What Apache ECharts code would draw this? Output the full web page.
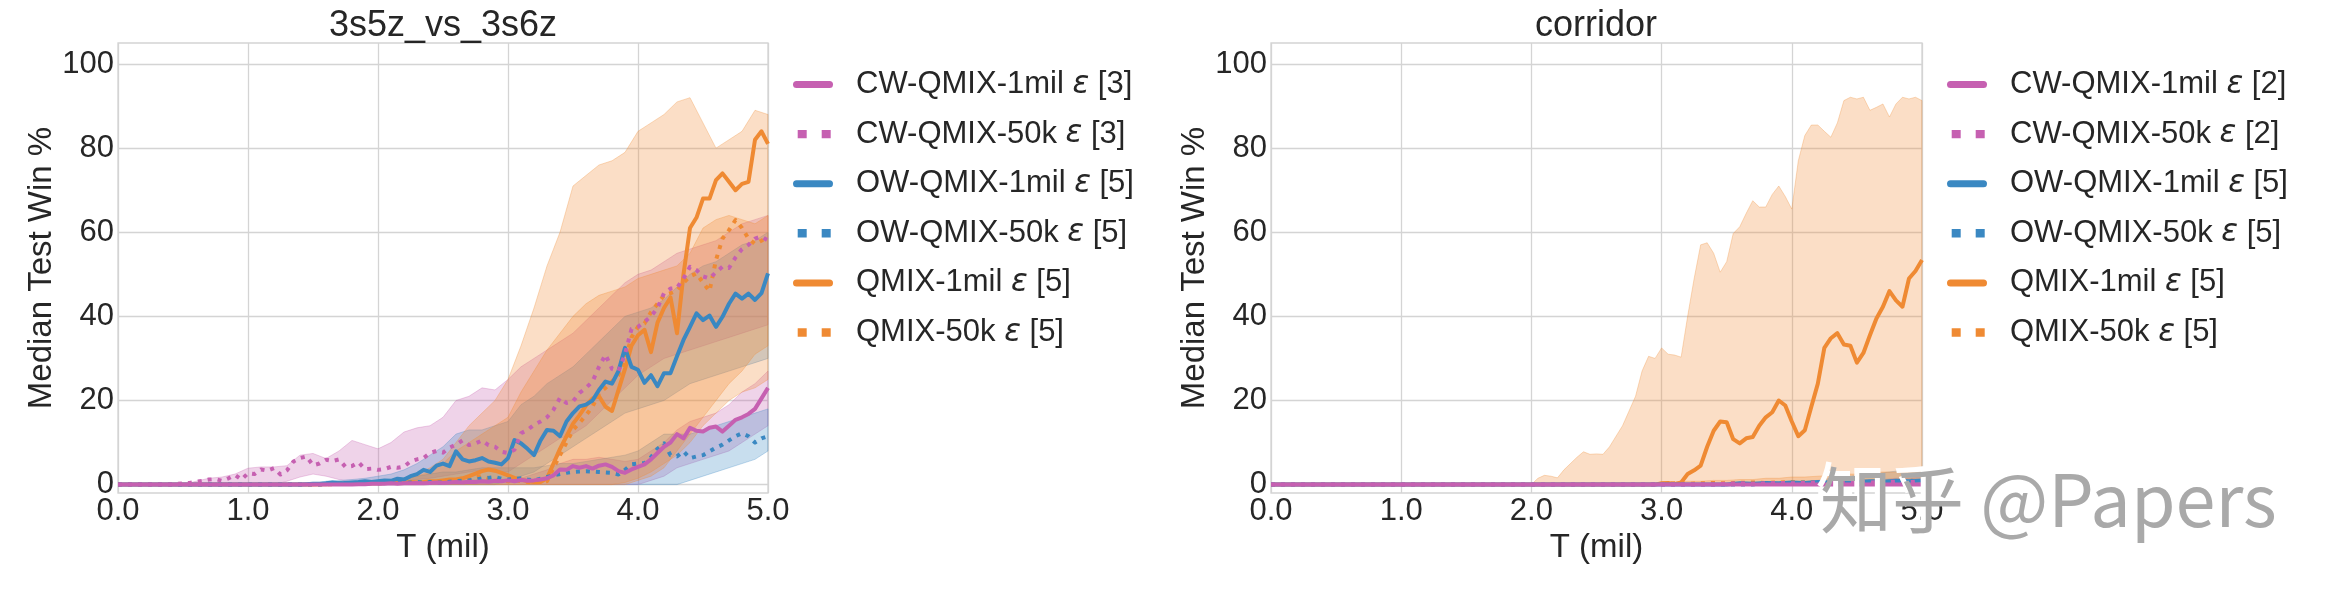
<!DOCTYPE html>
<html><head><meta charset="utf-8">
<script src="https://cdn.jsdelivr.net/npm/echarts@6/dist/echarts.min.js"></script>
<style>html,body{margin:0;padding:0;background:#fff}#c{width:2326px;height:604px}</style>
</head><body><div id="c"></div>
<script>
// ---------- sampling grids (T in millions of steps) ----------
const T05 = Array.from({length: 101}, (_, i) => Math.round(i * 5) / 100);
const T10 = Array.from({length: 51}, (_, i) => Math.round(i * 10) / 100);
const xTicks = [0, 1, 2, 3, 4, 5];
const yTicks = [0, 20, 40, 60, 80, 100];

const titles = ['3s5z_vs_3s6z', 'corridor'];
const namesL = ['CW-QMIX-1mil ε [3]', 'CW-QMIX-50k ε [3]', 'OW-QMIX-1mil ε [5]', 'OW-QMIX-50k ε [5]', 'QMIX-1mil ε [5]', 'QMIX-50k ε [5]'];
const namesR = ['CW-QMIX-1mil ε [2]', 'CW-QMIX-50k ε [2]', 'OW-QMIX-1mil ε [5]', 'OW-QMIX-50k ε [5]', 'QMIX-1mil ε [5]', 'QMIX-50k ε [5]'];

// ---------- 3s5z_vs_3s6z : medians on T05 ----------
const cw1L = [0,0,0,0,0,0,0,0,0,0, 0,0,0,0,0,0,0,0,0,0, 0,0,0,0,0,0,0,0,0,0, 0,0,0,0,0,0,0,0.1,0.1,0.2,
  0.2,0.2,0.3,0.2,0.3,0.3,0.4,0.3,0.4,0.5, 0.4,0.5,0.6,0.5,0.7,0.6,0.8,0.7,0.9,0.8,
  1.0,0.8,1.1,0.9,1.0,1.2,1.5,2.2,3.6,3.5, 4.4,4.0,4.4,3.8,4.5,4.8,4.2,3.2,2.8,3.6,
  4.2,4.8,6.0,7.5,9.0,10.0,12.0,11.0,13.5,12.8, 12.6,13.5,13.8,12.6,14.0,15.4,16.0,16.8,18.0,20.5, 23.0];
const cw50L = [0,0,0,0,0,0,0,0,0,0.2, 0.3,0.4,0.7,0.9,1.2,1.3,0.9,1.5,2.3,1.2,
  2.7,2.5,3.6,3.3,3.9,2.4,3.4,5.5,6.3,6.7, 4.6,5.0,5.9,5.6,6.0,4.2,4.4,5.3,3.7,3.8,
  3.5,3.7,4.2,4.0,4.3,5.5,6.0,6.3,7.5,8.0, 7.6,8.8,9.5,10.5,9.4,9.8,10.5,9.4,9.0,7.8,
  7.5,8.3,12.2,13.0,14.2,15.0,16.0,17.8,20.6,19.4, 19.8,21.8,23.0,24.5,28.0,30.9,27.5,27.0,31.0,37.0,
  37.5,38.7,40.0,42.0,45.5,46.6,46.8,49.0,51.8,51.0, 49.5,49.0,50.5,51.8,51.5,54.0,56.0,57.0,58.5,59.0, 58.0];
const ow1L = [0,0,0,0,0,0,0,0,0,0, 0,0,0,0,0,0,0,0,0,0, 0,0,0,0,0,0,0,0,0,0.1,
  0.2,0.2,0.3,0.5,0.3,0.4,0.5,0.6,0.8,0.6, 0.8,1.0,0.9,1.4,1.2,2.0,2.5,3.5,3.0,4.5,
  5.0,4.4,7.9,6.0,5.5,5.8,6.3,5.5,5.2,4.8, 6.3,10.6,9.8,8.5,7.0,10.5,13.0,12.8,11.5,15.0,
  17.0,18.6,19.0,20.0,22.5,24.5,24.0,27.0,32.5,28.0, 27.3,24.2,26.0,23.4,26.5,26.5,30.5,34.4,37.5,40.7,
  39.1,40.2,37.5,39.9,43.0,45.4,44.2,45.4,43.9,45.5, 50.2];
const ow50L = [0,0,0,0,0,0,0,0,0,0, 0,0,0,0,0,0,0,0,0,0, 0,0,0,0,0,0,0,0,0,0,
  0,0,0.2,0.2,0.3,0.2,0.3,0.4,0.3,0.4, 0.3,0.4,0.4,0.5,0.4,0.5,0.6,0.5,0.6,0.5,
  0.5,0.7,0.8,0.9,1.0,1.2,1.5,1.6,1.8,1.4, 1.2,1.3,1.5,1.2,1.0,1.4,1.8,2.2,2.5,2.8,
  3.0,3.1,3.2,3.1,3.0,2.9,2.8,2.4,3.5,4.8, 5.0,5.1,6.5,8.5,9.8,7.0,6.7,7.9,6.3,6.7,
  7.0,7.9,8.8,9.5,10.5,11.5,12.2,11.5,10.0,11.0, 11.5];
const q1L = [0,0,0,0,0,0,0,0,0,0, 0,0,0,0,0,0,0,0,0,0, 0,0,0,0,0,0,0,0,0,0,
  0,0.1,0.1,0.2,0.2,0.2,0.2,0.3,0.3,0.3, 0.3,0.4,0.4,0.5,0.4,0.6,0.5,0.6,0.8,0.8,
  1.0,1.2,1.2,1.5,2.0,2.6,3.2,3.6,3.3,2.8, 2.2,1.6,1.2,0.8,0.6,0.6,1.5,5.0,8.5,11.5,
  14.5,16.5,18.8,20.5,21.0,18.5,17.5,22.5,27.5,33.0, 35.5,36.8,31.5,38.5,42.0,44.5,36.0,50.0,61.0,63.5,
  68.0,68.0,72.4,74.0,72.0,70.0,71.5,72.0,82.0,84.0, 81.0];
const q50L = [0,0,0,0,0,0,0,0,0,0, 0,0,0,0,0,0,0,0,0,0, 0,0,0,0,0,0,0,0,0,0,
  0,0,0.1,0.1,0.2,0.2,0.2,0.3,0.3,0.3, 0.3,0.3,0.4,0.4,0.4,0.5,0.5,0.5,0.6,0.5,
  0.5,0.8,1.0,1.5,1.2,1.8,2.0,1.5,1.2,1.0, 0.8,1.0,0.8,0.6,0.5,0.6,0.8,4.0,7.0,10.0,
  13.0,14.7,16.5,18.5,21.8,23.0,24.5,26.0,29.7,35.0, 37.5,38.3,41.0,43.0,45.0,45.5,46.2,48.0,49.5,50.2,
  48.0,46.0,53.4,58.5,60.5,62.9,61.0,58.5,57.2,58.0, 59.0];

// ---------- 3s5z_vs_3s6z : shaded ranges on T10 ----------
const cw1Lo = [0,0,0,0,0,0,0,0,0,0, 0,0,0,0,0,0,0,0,0,0, 0,0,0,0,0,0,0,0,0,0, 0,0,0,0,0,0,0,0,0,0, 0,1,2,4,5,6,7,8,10,12, 14];
const cw1Up = [0,0,0,0,0,0,0,0,0,0, 0,0,0,0,0,0,0,0,0.2,0.3, 0.4,0.5,0.6,0.7,0.8,0.9,1.0,1.0,1.2,1.2,
  1.3,1.5,2.5,3.5,5.0,6.0,6.0,6.5,6.0,5.5, 6.0,8.0,10.0,13.0,15.0,16.0,17.0,19.0,22.0,24.0, 27.0];
const cw50Lo = [0,0,0,0,0,0,0,0,0,0, 0,0,0,0.8,1.8,2.5,2.0,1.2,0.5,0.3, 0.3,0.5,0.8,1.2,1.5,2.0,2.5,3.0,3.5,3.0,
  3.0,5.0,7.0,9.0,11.0,12.0,14.0,17.0,20.0,23.0, 26.0,28.0,30.0,31.0,32.0,33.0,34.0,35.0,36.0,37.0, 38.0];
const cw50Up = [0,0,0,0,0,0,0.8,1.5,1.8,2.5, 3.9,4.2,4.2,4.5,7.0,7.4,6.2,8.0,10.5,9.5, 8.5,10.0,12.5,13.5,14.0,16.0,20.0,21.0,23.0,22.5,
  25.0,28.0,30.0,32.0,34.0,36.0,39.0,42.0,45.0,48.0, 50.0,51.0,53.0,55.0,56.0,57.0,58.0,60.0,62.0,63.0, 64.0];
const ow1Lo = [0,0,0,0,0,0,0,0,0,0, 0,0,0,0,0,0,0,0,0,0, 0,0,0,0,0,0,0,0,0,0,
  1,2,3,5,7,9,11,13,15,17, 18,19,20,22,24,25,26,27,28,29, 30];
const ow1Up = [0,0,0,0,0,0,0,0,0,0, 0,0,0,0,0,0,0.8,1.0,1.2,1.5, 2,2.5,3.5,5,7,9,12,13,13,14,
  15,19,21,24,26,28,31,34,37,40, 41,42,44,47,50,52,53,55,57,58, 60];
const ow50Lo = [0,0,0,0,0,0,0,0,0,0, 0,0,0,0,0,0,0,0,0,0, 0,0,0,0,0,0,0,0,0,0, 0,0,0,0,0,0,0,0,0,0, 0,0,0,0,1,2,3,4,5,6, 8];
const ow50Up = [0,0,0,0,0,0,0,0,0,0, 0,0,0,0,0,0.2,0.3,0.4,0.5,0.5, 0.6,1,1.5,2,2.5,3,3,3.5,4,4,
  4,4,4,4.5,5,5,5.5,6,6.5,7, 8,10,12,12,12,13,14,15,16,17, 18];
const q1Lo = [0,0,0,0,0,0,0,0,0,0, 0,0,0,0,0,0,0,0,0,0, 0,0,0,0,0,0,0,0,0,0, 0,0,0,0,0,0,0,0,0,0, 1,2,4,8,12,16,20,24,27,31, 33];
const q1Up = [0,0,0,0,0,0,0,0,0,0, 0,0,0,0,0,0,0.2,0.3,0.3,0.4, 0.5,1,1.5,2.5,4,6,10,14,17,20,
  25,33,42,52,60,71,73.5,76,77,79, 84,86,88,91,92,86,80,82,84,89, 88];
const q50Lo = [0,0,0,0,0,0,0,0,0,0, 0,0,0,0,0,0,0,0,0,0, 0,0,0,0,0,0,0,0,0,0, 0,0,0,0,0,0,0,0,0,0.5, 1.5,3,5,7,10,14,17,20,22,23, 25];
const q50Up = [0,0,0,0,0,0,0,0,0,0, 0,0,0,0,0,0.2,0.3,0.4,0.5,0.6, 0.8,1,1.5,2,3,5,8,10,12,14,
  16,22,27,32,36,40,43,45,46,47, 49,50,51,52,55,61,63,64,63,62, 64];

// ---------- corridor ----------
const q1R = [0,0,0,0,0,0,0,0,0,0, 0,0,0,0,0,0,0,0,0,0, 0,0,0,0,0,0,0,0,0,0,
  0,0,0,0,0,0,0,0,0,0, 0,0,0,0,0,0,0,0,0,0, 0,0,0,0,0,0,0,0,0,0,
  0.3,0.4,0.1,0.5,2.5,3.4,4.5,9.0,12.8,15.0, 14.8,10.8,9.8,11.0,11.3,14.0,16.0,17.2,20.0,18.8,
  15.0,11.5,12.9,18.5,24.0,32.5,34.8,36.0,33.3,33.0, 29.0,31.3,35.5,39.5,42.3,46.0,43.8,42.3,49.0,50.8, 53.4];
const q1RUp = [0,0,0,0,0,0,0,0,0,0, 0,0,0,0,0,0,0,0,0,0, 0,0,0,0,0,0,0,0,0,0, 0,0,0,0,0,0,0,0,0,0, 0,
  1.5,2.2,2.0,1.6,3.5,5.0,6.5,7.8,7.2,
  7.3,7.2,9.0,11.5,14.0,17.5,21.0,27.0,30.5,30.0, 32.5,31.0,30.8,30.3,40.0,49.0,57.0,57.5,55.0,50.5,
  53.0,59.7,61.3,64.5,67.5,66.0,66.0,69.0,71.0,68.5, 65.5,77.0,83.0,85.5,85.5,84.0,82.6,86.0,91.3,92.1,
  91.7,92.1,89.0,89.7,90.5,87.4,90.5,92.1,91.7,92.1, 91.3];
const cw1R = [0,0,0,0,0,0,0,0,0,0, 0,0,0,0,0,0,0,0,0,0, 0,0,0,0,0,0,0,0,0,0, 0,0,0,0,0,0,0,0,0,0, 0,0,0,0,0,0,0,0,0,0, 0];
const cw50R = [0,0,0,0,0,0,0,0,0,0, 0,0,0,0,0,0,0,0,0,0, 0,0,0,0,0,0,0,0,0,0, 0,0,0,0,0,
  0.2,0.3,0.2,0.3,0.4,0.3,0.4,0.5,0.4,0.5,0.6,0.5,0.6,0.7,0.6,0.8];
const ow1R = [0,0,0,0,0,0,0,0,0,0, 0,0,0,0,0,0,0,0,0,0, 0,0,0,0,0,0,0,0,0,0, 0,0,0,0,0,0,
  0.3,0.2,0.4,0.3,0.5,0.4,0.6,0.5,0.7,0.6,0.8,0.7,0.9,0.8,1.0];
const ow50R = [0,0,0,0,0,0,0,0,0,0, 0,0,0,0,0,0,0,0,0,0, 0,0,0,0,0,0,0,0,0,0, 0,0,0,0,0,0,0,0,
  0.3,0.4,0.3,0.5,0.4,0.6,0.5,0.7,0.6,0.8,0.7,0.9,0.8];
const q50R = [0,0,0,0,0,0,0,0,0,0, 0,0,0,0,0,0,0,0,0,0, 0,0,0,0,0,0,0,0,0,0,
  0.2,0.3,0.2,0.3,0.4,0.3,0.4,0.5,0.4,0.5,0.6,0.5,0.6,0.5,0.7,0.6,0.8,0.7,0.9,0.8,1.0];
const cw50RUp = [0,0,0,0,0,0,0,0,0,0, 0,0,0,0,0,0,0,0,0,0, 0,0,0,0,0,0,0,0,0,0, 0,0,0,0,0,0,0,0,0,0,
  0.3,0.5,0.6,0.8,1.0,1.0,1.2,1.2,1.5,1.5,1.8];
const ow1RUp = [0,0,0,0,0,0,0,0,0,0, 0,0,0,0,0,0,0,0,0,0, 0,0,0,0,0,0,0,0,0,0, 0,0,0,0,0,0,0,0,0,0,
  0.5,0.8,1.0,1.5,1.8,2.2,2.5,2.8,3.2,3.5,3.8];
const q50RUp = [0,0,0,0,0,0,0,0,0,0, 0,0,0,0,0,0,0,0,0,0, 0,0,0,0,0,0,0,0,0,0,
  0.5,0.6,0.8,0.8,1.0,1.0,1.2,1.2,1.5,1.5,1.8,1.8,2.0,2.2,2.5,2.5,2.8,3.0,3.0,3.2,3.5];

// ---------- styling ----------
const PINK = '#c660b1', BLUE = '#3a88c2', ORANGE = '#ef8a33';
const TXT = '#262626', GRIDC = '#d4d4d4';
const FONT = '"Liberation Sans", Arial, sans-serif';

function rgba(hex, a) {
  const n = parseInt(hex.slice(1), 16);
  return 'rgba(' + (n >> 16) + ',' + ((n >> 8) & 255) + ',' + (n & 255) + ',' + a + ')';
}
function band(gi, xs, lo, up, color) {
  return {
    type: 'custom', xAxisIndex: gi, yAxisIndex: gi, silent: true, z: 1, animation: false,
    data: xs.map((x, i) => [x, lo ? lo[i] : 0, up[i]]),
    encode: { x: 0, y: [1, 2] },
    renderItem: function (params, api) {
      if (params.dataIndex !== 0) return null;
      const top = xs.map((x, i) => api.coord([x, up[i]]));
      const bot = xs.map((x, i) => api.coord([x, lo ? lo[i] : 0])).reverse();
      return { type: 'polygon', shape: { points: top.concat(bot) },
        style: { fill: rgba(color, 0.28), stroke: rgba(color, 0.3), lineWidth: 1 } };
    }
  };
}
function line(gi, name, xs, ys, color, dotted) {
  return {
    type: 'line', name: name, xAxisIndex: gi, yAxisIndex: gi, silent: true, animation: false,
    data: xs.map((x, i) => [x, ys[i]]), symbol: 'none', showSymbol: false, z: 3,
    itemStyle: { color: color },
    lineStyle: { color: color, width: 4, type: dotted ? [4, 6] : 'solid', cap: 'butt', join: 'round' }
  };
}

const SOLID = 'path://M0,0M58,9M3.5,1h33a3.5,3.5,0,0,1,0,7h-33a3.5,3.5,0,0,1,0,-7z';
const DOTS = 'path://M0,0M58,9M4.7,0.3h9v8.4h-9zM28.7,0.3h9v8.4h-9z';
const legendColors = [PINK, PINK, BLUE, BLUE, ORANGE, ORANGE];
function legend(left, names) {
  return {
    left: left, top: 69, orient: 'vertical', padding: 0, itemGap: 18.6,
    itemWidth: 58, itemHeight: 9, selectedMode: false, symbolKeepAspect: true,
    itemStyle: { borderWidth: 0 },
    data: names.map((n, i) => ({ name: n, icon: i % 2 === 0 ? SOLID : DOTS, itemStyle: { color: legendColors[i], borderWidth: 0 } })),
    formatter: function (name) {
      const p = name.split('ε');
      return '{t|' + p[0] + '}{e|ε}{t|' + p[1] + '}';
    },
    textStyle: {
      rich: {
        t: { fontSize: 31, fontFamily: FONT, color: TXT, lineHeight: 36 },
        e: { fontSize: 31, fontFamily: '"DejaVu Sans", sans-serif', fontStyle: 'italic', color: TXT, lineHeight: 36 }
      }
    }
  };
}
function xAxis(gi) {
  return {
    type: 'value', gridIndex: gi, min: 0, max: 5, interval: 1,
    name: 'T (mil)', nameLocation: 'middle', nameGap: 26,
    nameTextStyle: { fontSize: 33, fontFamily: FONT, color: TXT },
    axisLine: { show: false }, axisTick: { show: false },
    axisLabel: { fontSize: 31, fontFamily: FONT, color: TXT, margin: 3, formatter: v => v.toFixed(1) },
    splitLine: { show: true, lineStyle: { color: GRIDC, width: 1.3 } }
  };
}
function yAxis(gi) {
  return {
    type: 'value', gridIndex: gi, min: -2, max: 105,
    name: 'Median Test Win %', nameLocation: 'middle', nameGap: 56, nameRotate: 90,
    nameTextStyle: { fontSize: 33, fontFamily: FONT, color: TXT },
    axisLine: { show: false },
    axisTick: { show: false, customValues: yTicks },
    axisLabel: { fontSize: 31, fontFamily: FONT, color: TXT, margin: 4, customValues: yTicks },
    splitLine: { show: true, lineStyle: { color: GRIDC, width: 1.3 } }
  };
}

const series = [
  // left bands
  band(0, T10, cw50Lo, cw50Up, PINK), band(0, T10, cw1Lo, cw1Up, PINK),
  band(0, T10, ow1Lo, ow1Up, BLUE), band(0, T10, ow50Lo, ow50Up, BLUE),
  band(0, T10, q1Lo, q1Up, ORANGE), band(0, T10, q50Lo, q50Up, ORANGE),
  // left lines
  line(0, namesL[5], T05, q50L, ORANGE, true), line(0, namesL[4], T05, q1L, ORANGE, false),
  line(0, namesL[3], T05, ow50L, BLUE, true), line(0, namesL[2], T05, ow1L, BLUE, false),
  line(0, namesL[1], T05, cw50L, PINK, true), line(0, namesL[0], T05, cw1L, PINK, false),
  // right bands
  band(1, T10, null, cw50RUp, PINK), band(1, T10, null, ow1RUp, BLUE),
  band(1, T05, null, q1RUp, ORANGE), band(1, T10, null, q50RUp, ORANGE),
  // right lines
  line(1, namesR[5], T10, q50R, ORANGE, true), line(1, namesR[4], T05, q1R, ORANGE, false),
  line(1, namesR[3], T10, ow50R, BLUE, true), line(1, namesR[2], T10, ow1R, BLUE, false),
  line(1, namesR[1], T10, cw50R, PINK, true), line(1, namesR[0], T10, cw1R, PINK, false)
];

const chart = echarts.init(document.getElementById('c'), null, { renderer: 'canvas' });
chart.setOption({
  backgroundColor: '#ffffff',
  animation: false,
  textStyle: { fontFamily: FONT },
  title: [
    { text: titles[0], left: 443, top: 8, textAlign: 'center', padding: 0,
      textStyle: { fontSize: 36, fontWeight: 'normal', fontFamily: FONT, color: TXT } },
    { text: titles[1], left: 1596, top: 8, textAlign: 'center', padding: 0,
      textStyle: { fontSize: 36, fontWeight: 'normal', fontFamily: FONT, color: TXT } }
  ],
  grid: [
    { left: 118, top: 43, width: 650, height: 450, show: true, borderColor: GRIDC, borderWidth: 1.3, backgroundColor: 'transparent', containLabel: false, outerBoundsMode: 'none' },
    { left: 1271, top: 43, width: 651, height: 450, show: true, borderColor: GRIDC, borderWidth: 1.3, backgroundColor: 'transparent', containLabel: false, outerBoundsMode: 'none' }
  ],
  xAxis: [xAxis(0), xAxis(1)],
  yAxis: [yAxis(0), yAxis(1)],
  legend: [legend(793, namesL), legend(1947, namesR)],
  graphic: [
    { type: 'text', left: 1815, top: 459, z: 100, silent: true,
      style: { text: '知乎 @Papers', font: '72px "Noto Sans CJK SC", sans-serif', fill: '#ffffff' } },
    { type: 'text', left: 1820, top: 464, z: 101, silent: true,
      style: { text: '知乎 @Papers', font: '72px "Noto Sans CJK SC", sans-serif', fill: '#a9a9a9',
        shadowColor: 'rgba(110,110,110,0.55)', shadowOffsetX: 2, shadowOffsetY: 3, shadowBlur: 0 } }
  ],
  series: series
});
</script>
</body></html>
